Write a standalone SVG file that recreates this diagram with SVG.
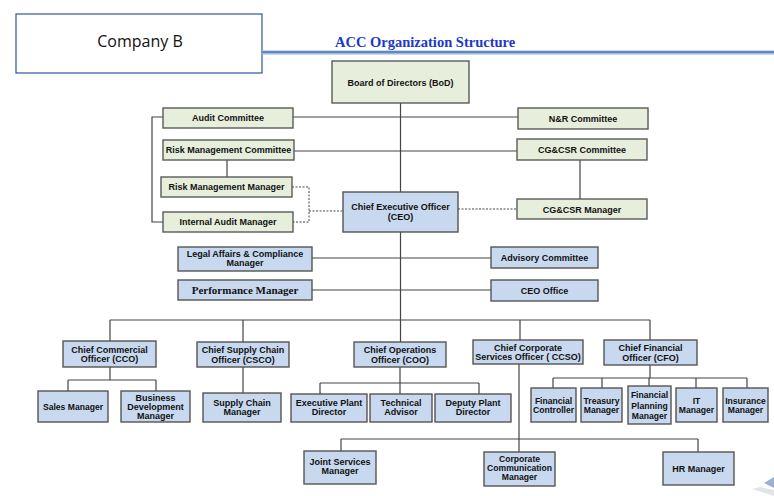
<svg xmlns="http://www.w3.org/2000/svg" width="774" height="496" viewBox="0 0 774 496">
<style>
.g{fill:#e8eedc;stroke:#5a5a5a;stroke-width:1.4}
.b{fill:#c7d8ef;stroke:#555;stroke-width:1.4}
.t{font-family:"Liberation Sans",Arial,sans-serif;font-weight:bold;font-size:9px;fill:#111;text-anchor:middle}
.s{font-size:8.6px}
.c{fill:none;stroke:#444;stroke-width:1.2}
.d{fill:none;stroke:#444;stroke-width:1;stroke-dasharray:2,1.5}
</style>
<rect width="774" height="496" fill="#fff"/>
<g id="header">
<rect x="16" y="14" width="246" height="59" fill="#fff" stroke="#2f5597" stroke-width="1.2"/>
<text x="140" y="47" font-family="Open Sans,Liberation Sans,sans-serif" font-size="16" fill="#111" text-anchor="middle">Company B</text>
<rect x="262" y="50.5" width="512" height="4" fill="#9cb6de"/>
<line x1="262" y1="52" x2="774" y2="52" stroke="#4f78bb" stroke-width="1.5"/>
<text x="335" y="47" font-family="Liberation Serif,Times New Roman,serif" font-weight="bold" font-size="14.5" fill="#2038c8">ACC Organization Structure</text>
</g>
<g id="connectors">
<path class="c" d="M400.5 103V342M110 320H650M110 320V341M243 320V342M520 320V340M650 320V340"/>
<path class="c" d="M163 117H152V222H163M293 117H518M294 151H517M227 160V177M580 160V199M312 258H491M312 290H491"/>
<path class="d" d="M292 187H309V222H293M309 211H343M458 209H517"/>
<path class="c" d="M110 367V380M68 380H156M68 380V391M156 380V391M243 367V393"/>
<path class="c" d="M400 367V383M320 383H479M320 383V394M400 383V394M479 383V394"/>
<path class="c" d="M519 364V452M341 439H698M341 439V451M698 439V452"/>
<path class="c" d="M650 365V378M553 378H747M553 378V388M602 378V388M649 378V386M696 378V388M747 378V388"/>
</g>
<g id="bod"><rect class="g" x="332" y="61" width="137" height="42"/><text class="t" x="400.5" y="85.5">Board of Directors (BoD)</text></g>
<g id="audit"><rect class="g" x="163" y="108" width="130" height="20"/><text class="t" x="228" y="121">Audit Committee</text></g>
<g id="rmc"><rect class="g" x="163" y="140" width="131" height="20"/><text class="t" x="228.5" y="153">Risk Management Committee</text></g>
<g id="rmm"><rect class="g" x="161" y="177" width="131" height="20"/><text class="t" x="226.5" y="190">Risk Management Manager</text></g>
<g id="iam"><rect class="g" x="163" y="212" width="130" height="20"/><text class="t" x="228" y="225">Internal Audit Manager</text></g>
<g id="nr"><rect class="g" x="518" y="108" width="130" height="21"/><text class="t" x="583" y="121.5">N&amp;R Committee</text></g>
<g id="cgc"><rect class="g" x="517" y="139" width="130" height="21"/><text class="t" x="582" y="152.5">CG&amp;CSR Committee</text></g>
<g id="cgm"><rect class="g" x="517" y="199" width="130" height="20"/><text class="t" x="582" y="212.5">CG&amp;CSR Manager</text></g>
<g id="ceo"><rect class="b" x="343" y="192" width="115" height="40"/><text class="t" x="400.5" y="210">Chief Executive Officer</text><text class="t" x="400.5" y="219.5">(CEO)</text></g>
<g id="legal"><rect class="b" x="178" y="247" width="134" height="24"/><text class="t" x="245" y="257">Legal Affairs &amp; Compliance</text><text class="t" x="245" y="266">Manager</text></g>
<g id="perf"><rect class="b" x="178" y="280" width="134" height="20"/><text x="245" y="294" font-family="Liberation Serif,Times New Roman,serif" font-weight="bold" font-size="11" fill="#111" text-anchor="middle">Performance Manager</text></g>
<g id="advisory"><rect class="b" x="491" y="247" width="107" height="21"/><text class="t" x="544.5" y="260.5">Advisory Committee</text></g>
<g id="ceooffice"><rect class="b" x="491" y="280" width="107" height="21"/><text class="t" x="544.5" y="293.5">CEO Office</text></g>
<g id="cco"><rect class="b" x="63" y="341" width="93" height="26"/><text class="t" x="109.5" y="352.5">Chief Commercial</text><text class="t" x="109.5" y="362">Officer (CCO)</text></g>
<g id="csco"><rect class="b" x="197" y="342" width="92" height="25"/><text class="t" x="243" y="353">Chief Supply Chain</text><text class="t" x="243" y="362.5">Officer (CSCO)</text></g>
<g id="coo"><rect class="b" x="354" y="342" width="92" height="25"/><text class="t" x="400" y="353">Chief Operations</text><text class="t" x="400" y="362.5">Officer (COO)</text></g>
<g id="ccso"><rect class="b" x="473" y="340" width="110" height="24"/><text class="t" x="528" y="350.5">Chief Corporate</text><text class="t" x="528" y="360">Services Officer ( CCSO)</text></g>
<g id="cfo"><rect class="b" x="604" y="340" width="93" height="25"/><text class="t" x="650.5" y="351">Chief Financial</text><text class="t" x="650.5" y="360.5">Officer (CFO)</text></g>
<g id="sales"><rect class="b" x="38" y="391" width="70" height="31"/><text class="t s" x="73" y="410">Sales Manager</text></g>
<g id="bdm"><rect class="b" x="121" y="391" width="69" height="31"/><text class="t" x="155.5" y="400.5">Business</text><text class="t" x="155.5" y="409.5">Development</text><text class="t" x="155.5" y="418.5">Manager</text></g>
<g id="scm"><rect class="b" x="203" y="393" width="78" height="29"/><text class="t" x="242" y="405.5">Supply Chain</text><text class="t" x="242" y="414.5">Manager</text></g>
<g id="epd"><rect class="b" x="291" y="394" width="76" height="28"/><text class="t" x="329" y="406">Executive Plant</text><text class="t" x="329" y="415">Director</text></g>
<g id="ta"><rect class="b" x="370" y="394" width="62" height="28"/><text class="t" x="401" y="406">Technical</text><text class="t" x="401" y="415">Advisor</text></g>
<g id="dpd"><rect class="b" x="435" y="394" width="76" height="28"/><text class="t" x="473" y="406">Deputy Plant</text><text class="t" x="473" y="415">Director</text></g>
<g id="fc"><rect class="b" x="531" y="388" width="45" height="34"/><text class="t s" x="553.5" y="404">Financial</text><text class="t s" x="553.5" y="413">Controller</text></g>
<g id="tm"><rect class="b" x="581" y="388" width="41" height="34"/><text class="t s" x="601.5" y="404">Treasury</text><text class="t s" x="601.5" y="413">Manager</text></g>
<g id="fpm"><rect class="b" x="628" y="386" width="43" height="38"/><text class="t s" x="649.5" y="398">Financial</text><text class="t s" x="649.5" y="408.5">Planning</text><text class="t s" x="649.5" y="419">Manager</text></g>
<g id="it"><rect class="b" x="676" y="388" width="41" height="34"/><text class="t s" x="696.5" y="404">IT</text><text class="t s" x="696.5" y="413">Manager</text></g>
<g id="ins"><rect class="b" x="723" y="388" width="45" height="34"/><text class="t s" x="745.5" y="404">Insurance</text><text class="t s" x="745.5" y="413">Manager</text></g>
<g id="jsm"><rect class="b" x="304" y="451" width="72" height="33"/><text class="t" x="340" y="464.5">Joint Services</text><text class="t" x="340" y="473.5">Manager</text></g>
<g id="ccm"><rect class="b" x="484" y="452" width="71" height="34"/><text class="t s" x="519.5" y="462">Corporate</text><text class="t s" x="519.5" y="471">Communication</text><text class="t s" x="519.5" y="480">Manager</text></g>
<g id="hr"><rect class="b" x="663" y="452" width="71" height="33"/><text class="t" x="698.5" y="472">HR Manager</text></g>
<g id="deco">
<polygon points="774,477 764,483 774,488" fill="#9fb0cc"/>
<polygon points="752,489 774,496 774,490 760,487" fill="#e2e4e8"/>
</g>
</svg>
